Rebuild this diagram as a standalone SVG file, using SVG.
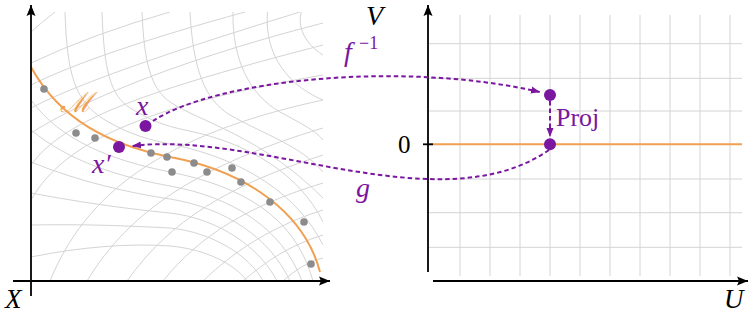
<svg xmlns="http://www.w3.org/2000/svg" width="754" height="315" viewBox="0 0 754 315">
<defs>
<style>
.grid{fill:none;stroke:#d4d4d4;stroke-width:1}
.axis{fill:none;stroke:#000;stroke-width:1.8}
.man{fill:none;stroke:#f0a050;stroke-width:2}
.dash{fill:none;stroke:#7a16a0;stroke-width:2;stroke-dasharray:4.5 3}
.pt{fill:#7a16a0}
.gd{fill:#8c8c8c}
</style>
<marker id="ah" markerUnits="userSpaceOnUse" markerWidth="10" markerHeight="8" viewBox="0 0 10 8" refX="9" refY="4" orient="auto">
<path d="M0,0.5 L9,4 L0,7.5 z" fill="#7a16a0"/>
</marker>
<marker id="axh" markerUnits="userSpaceOnUse" markerWidth="12" markerHeight="10" viewBox="0 0 12 10" refX="11" refY="5" orient="auto">
<path d="M0,0.5 L11,5 L0,9.5 L2,5 z" fill="#000"/>
</marker>
<clipPath id="lc"><rect x="31" y="12" width="292" height="269"/></clipPath>
</defs>

<g id="left-grid" clip-path="url(#lc)">
<g class="grid">
<path d="M303,8 C296,22 302,42 323,55"/>
<path d="M268,8 C263,45 280,82 323,100"/>
<path d="M233,12 C232,60 250,95 280,112 C300,123 315,130 323,140"/>
<path d="M190,12 C193,70 205,100 230,115 C265,135 300,145 323,172"/>
<path d="M142,12 C144,60 150,88 170,102 C200,122 260,135 323,198"/>
<path d="M102,12 C104,70 110,95 130,108 C150,120 165,126 185,130 C250,143 300,175 323,222"/>
<path d="M65,12 C67,75 75,102 105,120 C130,135 150,140 175,145 C245,160 298,195 323,245"/>
<path d="M31,100 C60,140 110,160 170,172 C240,186 295,215 313,281"/>
<path d="M31,130 C70,162 120,177 170,186 C232,197 282,228 302,281"/>
<path d="M31,162 C80,182 130,193 170,199 C226,208 270,238 290,281"/>
<path d="M31,193 C90,204 130,209 170,213 C220,219 260,248 277,281"/>
<path d="M31,225 C90,224 130,226 170,228 C212,232 250,256 263,281"/>
<path d="M31,257 C80,247 130,243 170,246 C205,249 235,264 247,281"/>
<path d="M31,32 Q42,22 55,12"/>
<path d="M31,63 Q95,33 170,12"/>
<path d="M31,85 C75,63 150,38 245,12"/>
<path d="M31,108 C75,85 160,55 300,12"/>
<path d="M31,133 C70,108 160,65 323,23"/>
<path d="M31,165 C65,118 150,90 323,45"/>
<path d="M31,200 C65,140 150,105 323,75"/>
<path d="M50,281 C85,195 160,135 323,100"/>
<path d="M87,281 C130,210 200,165 323,128"/>
<path d="M127,281 C170,220 230,185 323,155"/>
<path d="M163,281 C200,235 250,205 323,183"/>
<path d="M203,281 C235,250 275,225 323,210"/>
<path d="M243,281 C265,262 290,245 323,235"/>
<path d="M283,281 C295,270 308,262 323,258"/>
</g>
</g>

<g id="right-grid" class="grid">
<path d="M460,15 V276 M490,15 V276 M520,15 V276 M550,15 V276 M580,15 V276 M610,15 V276 M640,15 V276 M670,15 V276 M700,15 V276 M730,15 V276"/>
<path d="M429,43.7 H742 M429,78.3 H742 M429,111 H742 M429,179 H742 M429,212.7 H742 M429,247.3 H742"/>
</g>

<g id="manifold">
<path class="man" d="M31,67 C60,120 110,145 170,157 C250,172 305,215 320,272"/>
<text x="60" y="112" font-family="DejaVu Serif, serif" font-style="italic" font-size="28" fill="#f0a050">ℳ</text>
</g>
<g id="latent-line">
<path class="man" d="M429,144.3 H742"/>
</g>

<g id="data-points" class="gd">
<circle cx="44" cy="89" r="3.8"/>
<circle cx="76" cy="133" r="3.8"/>
<circle cx="95" cy="138" r="3.8"/>
<circle cx="151" cy="153" r="3.8"/>
<circle cx="167" cy="157" r="3.8"/>
<circle cx="172" cy="172" r="3.8"/>
<circle cx="194" cy="163" r="3.8"/>
<circle cx="207" cy="172" r="3.8"/>
<circle cx="232" cy="168" r="3.8"/>
<circle cx="241" cy="182" r="3.8"/>
<circle cx="270" cy="202" r="3.8"/>
<circle cx="304" cy="222" r="3.8"/>
<circle cx="311" cy="264" r="3.8"/>
</g>

<g id="axes" font-family="Liberation Serif, serif">
<path class="axis" d="M31,296 V5" marker-end="url(#axh)"/>
<path class="axis" d="M13,281 H330" marker-end="url(#axh)"/>
<path class="axis" d="M428,272 V5" marker-end="url(#axh)"/>
<path class="axis" d="M433,281 H748" marker-end="url(#axh)"/>
<path class="axis" d="M423,144.3 H433"/>
<text x="5" y="308" font-style="italic" font-size="27">X</text>
<text x="366" y="25" font-style="italic" font-size="28">V</text>
<text x="724" y="308" font-style="italic" font-size="27">U</text>
<text x="398" y="153" font-size="25">0</text>
</g>

<g id="connectors" font-family="Liberation Serif, serif" fill="#7a16a0">
<path class="dash" d="M153,121 C215,80 400,60 540,92" marker-end="url(#ah)"/>
<path class="dash" d="M549,150 C440,225 260,130 132,146" marker-end="url(#ah)"/>
<path class="dash" d="M550,101 V137" marker-end="url(#ah)"/>
<text x="344" y="61" font-style="italic" font-size="28">f</text>
<text x="359" y="49" font-size="18">−1</text>
<text x="356" y="197" font-style="italic" font-size="28">g</text>
<text x="556" y="126" font-size="26">Proj</text>
</g>

<g id="node-x" font-family="Liberation Serif, serif" fill="#7a16a0">
<circle class="pt" cx="145.5" cy="126" r="6"/>
<text x="136" y="115" font-style="italic" font-size="28">x</text>
</g>
<g id="node-xprime" font-family="Liberation Serif, serif" fill="#7a16a0">
<circle class="pt" cx="119" cy="147" r="6"/>
<text x="92" y="173" font-style="italic" font-size="28">x′</text>
</g>
<g id="node-z">
<circle class="pt" cx="550" cy="95" r="6"/>
</g>
<g id="node-zproj">
<circle class="pt" cx="550" cy="144.3" r="6"/>
</g>
</svg>
